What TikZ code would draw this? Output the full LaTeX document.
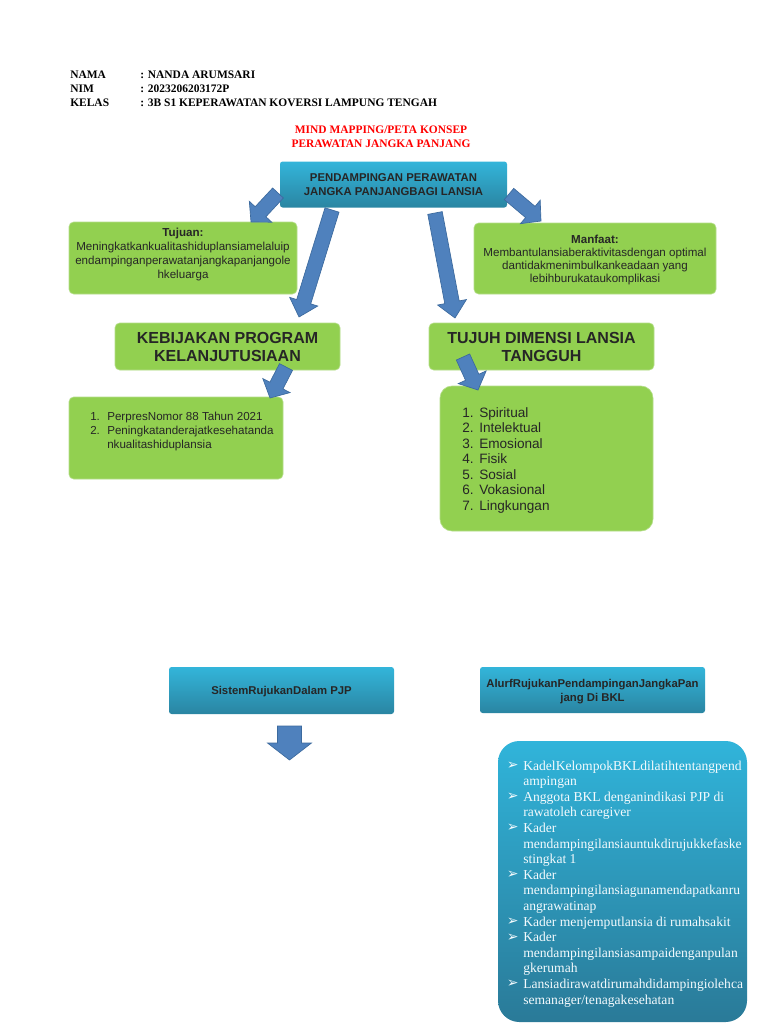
\documentclass[tikz,border=0pt]{standalone}
\usepackage{fontspec}
\setmainfont{Liberation Serif}
\setsansfont{Liberation Sans}
\newfontfamily\bulletfont{DejaVu Sans}
\usetikzlibrary{calc}
\definecolor{grn}{HTML}{92D050}
\definecolor{grnb}{HTML}{B5DE8A}
\definecolor{tealT}{HTML}{33B5DA}
\definecolor{tealB}{HTML}{2A85A2}
\definecolor{bigT}{HTML}{30B4DA}
\definecolor{bigB}{HTML}{2A7A98}
\definecolor{arr}{HTML}{4F81BD}
\definecolor{arrb}{HTML}{3C6A9E}
\definecolor{titlered}{HTML}{FF0000}
\newcommand\fsz[2]{\fontsize{#1}{#2}\selectfont}
% block arrow: #1 from, #2 to, #3 shaft half width, #4 head half width, #5 head length
\newcommand\blockarrow[5]{%
  \coordinate (bah) at ($(#2)!#5!(#1)$);
  \draw[blockarr] ($(#1)!#3!90:(#2)$) -- ($(bah)!#3!90:(#2)$) -- ($(bah)!#4!90:(#2)$) -- (#2)
    -- ($(bah)!#4!-90:(#2)$) -- ($(bah)!#3!-90:(#2)$) -- ($(#1)!#3!-90:(#2)$) -- cycle;}
\tikzset{
  greenbox/.style={draw=grnb, fill=grn, rounded corners=3.5pt, line width=0.5pt, inner sep=0pt},
  tealbox/.style={top color=tealT, bottom color=tealB, rounded corners=2pt, inner sep=0pt},
  bigbox/.style={top color=bigT, bottom color=bigB, rounded corners=16pt, inner sep=0pt},
  blockarr/.style={fill=arr, draw=arrb, line width=0.5pt, line join=miter},
  txt/.style={inner sep=0pt, anchor=base west},
  ctxt/.style={inner sep=0pt, anchor=base},
  hdr/.style={txt, font=\rmfamily\bfseries\fsz{8.6}{10}},
  titletxt/.style={ctxt, font=\rmfamily\bfseries\fsz{8.6}{10}, text=titlered},
  headtxt/.style={ctxt, font=\sffamily\bfseries\fsz{8.5}{10}, text=black!85},
  bodytxt/.style={ctxt, font=\sffamily\fsz{8.7}{10}, text=black!85},
  bigtxt/.style={ctxt, font=\sffamily\bfseries\fsz{12}{14}, text=black!85},
  listtxt/.style={txt, font=\sffamily\fsz{8.7}{10}, text=black!85},
  list2txt/.style={txt, font=\sffamily\fsz{10.2}{12}, text=black!85},
  bultxt/.style={txt, font=\rmfamily\fsz{10.2}{12}, text=white!94!bigT},
}
\begin{document}
\begin{tikzpicture}[x=0.75pt,y=-0.75pt]
\useasboundingbox[fill=white] (0,0) rectangle (768,1024);

% header
\foreach \t [count=\i from 0] in {NAMA, NIM, KELAS}
  \node[hdr] (lab\i) at (70,79+13.5*\i) {\t};
\foreach \t [count=\i from 0] in {: NANDA ARUMSARI, : 2023206203172P, : 3B S1 KEPERAWATAN KOVERSI LAMPUNG TENGAH}
  \node[hdr] (val\i) at (140,79+13.5*\i) {\t};
\node[titletxt] (title1) at (381,133) {MIND MAPPING/PETA KONSEP};
\node[titletxt] (title2) at (381,147) {PERAWATAN JANGKA PANJANG};

% central
\node[tealbox, minimum width=227*0.75pt, minimum height=46*0.75pt] (central) at (393.5,184.5) {};
\node[headtxt] (c1) at (393.5,181.5) {PENDAMPINGAN PERAWATAN};
\node[headtxt] (c2) at (393.5,195) {JANGKA PANJANGBAGI LANSIA};

% tujuan
\node[greenbox, minimum width=228*0.75pt, minimum height=72*0.75pt] (tujuan) at (183,258) {};
\node[ctxt, font=\sffamily\bfseries\fsz{8.7}{10}, text=black!85] (tj0) at (183,236) {Tujuan:};
\foreach \t [count=\i from 1] in {Meningkatkankualitashiduplansiamelaluip, endampinganperawatanjangkapanjangole, hkeluarga}
  \node[bodytxt] (tj\i) at (183,236+14*\i) {\t};

% manfaat
\node[greenbox, minimum width=242*0.75pt, minimum height=71*0.75pt] (manfaat) at (595,258.5) {};
\node[ctxt, font=\sffamily\bfseries\fsz{8.7}{10}, text=black!85] (mf0) at (595,243) {Manfaat:};
\foreach \t [count=\i from 1] in {Membantulansiaberaktivitasdengan optimal, dantidakmenimbulkankeadaan yang, lebihburukataukomplikasi}
  \node[bodytxt] (mf\i) at (595,243+13*\i) {\t};

% kebijakan / tujuh
\node[greenbox, minimum width=225*0.75pt, minimum height=47*0.75pt] (kebijakan) at (227.5,346.5) {};
\node[bigtxt] (kb1) at (227.5,343) {KEBIJAKAN PROGRAM};
\node[bigtxt] (kb2) at (227.5,361) {KELANJUTUSIAAN};
\node[greenbox, minimum width=225*0.75pt, minimum height=47*0.75pt] (tujuh) at (541.5,346.5) {};
\node[bigtxt] (tt1) at (541.5,343) {TUJUH DIMENSI LANSIA};
\node[bigtxt] (tt2) at (541.5,361) {TANGGUH};

% list 1
\node[greenbox, minimum width=214*0.75pt, minimum height=82*0.75pt] (list1) at (176,438) {};
\node[listtxt] (l1n1) at (90,420) {1.};
\node[listtxt] (l1t1) at (107,420) {PerpresNomor 88 Tahun 2021};
\node[listtxt] (l1n2) at (90,434) {2.};
\node[listtxt] (l1t2) at (107,434) {Peningkatanderajatkesehatanda};
\node[listtxt] (l1t3) at (107,448) {nkualitashiduplansia};

% list 2
\node[greenbox, rounded corners=9pt, minimum width=213*0.75pt, minimum height=145*0.75pt] (list2) at (546.5,458.5) {};
\foreach \t [count=\i from 1] in {Spiritual, Intelektual, Emosional, Fisik, Sosial, Vokasional, Lingkungan} {
  \node[list2txt] (l2n\i) at (462,401.5+15.5*\i) {\i.};
  \node[list2txt] (l2t\i) at (479,401.5+15.5*\i) {\t};
}

% bottom boxes
\node[tealbox, minimum width=225*0.75pt, minimum height=47*0.75pt] (sistem) at (281.5,690.5) {};
\node[headtxt] (st1) at (281.5,694) {SistemRujukanDalam PJP};
\node[tealbox, minimum width=225*0.75pt, minimum height=46*0.75pt] (alur) at (592.5,690) {};
\node[headtxt] (al1) at (592.5,687) {AlurfRujukanPendampinganJangkaPan};
\node[headtxt] (al2) at (592.5,701) {jang Di BKL};

\node[bigbox, minimum width=249*0.75pt, minimum height=281*0.75pt] (big) at (622.5,881.5) {};
\foreach \b/\t [count=\i from 0] in {
  1/KadelKelompokBKLdilatihtentangpend, 0/ampingan,
  1/Anggota BKL denganindikasi PJP di, 0/rawatoleh caregiver,
  1/Kader, 0/mendampingilansiauntukdirujukkefaske, 0/stingkat 1,
  1/Kader, 0/mendampingilansiagunamendapatkanru, 0/angrawatinap,
  1/Kader menjemputlansia di rumahsakit,
  1/Kader, 0/mendampingilansiasampaidenganpulan, 0/gkerumah,
  1/Lansiadirawatdirumahdidampingiolehca, 0/{semanager/tenagakesehatan}} {
  \node[bultxt] (bt\i) at (523,770+15.6*\i) {\t};
  \ifnum\b=1 \node[bultxt, font=\bulletfont\fsz{10.5}{12}] (bb\i) at (506.5,769.5+15.6*\i) {➢};\fi
}

% arrows
\coordinate (a1s) at (278,193); \coordinate (a1e) at (251,222);
\coordinate (a2s) at (332,210); \coordinate (a2e) at (299,317);
\coordinate (a3s) at (509,194); \coordinate (a3e) at (541,221);
\coordinate (a4s) at (435,213); \coordinate (a4e) at (455,318);
\coordinate (a5s) at (286,367); \coordinate (a5e) at (270,398);
\coordinate (a6s) at (463,357); \coordinate (a6e) at (478,390);
\coordinate (a7s) at (289.5,726); \coordinate (a7e) at (289.5,760);
\blockarrow{a1s}{a1e}{5.5pt}{11.5pt}{10.5pt}
\blockarrow{a2s}{a2e}{5.5pt}{11pt}{12pt}
\blockarrow{a3s}{a3e}{5.5pt}{11.5pt}{10.5pt}
\blockarrow{a4s}{a4e}{5.5pt}{11pt}{12pt}
\blockarrow{a5s}{a5e}{5.5pt}{11.5pt}{10.5pt}
\blockarrow{a6s}{a6e}{5.5pt}{11.5pt}{10.5pt}
\blockarrow{a7s}{a7e}{9pt}{16.5pt}{12.75pt}
\end{tikzpicture}
\end{document}
